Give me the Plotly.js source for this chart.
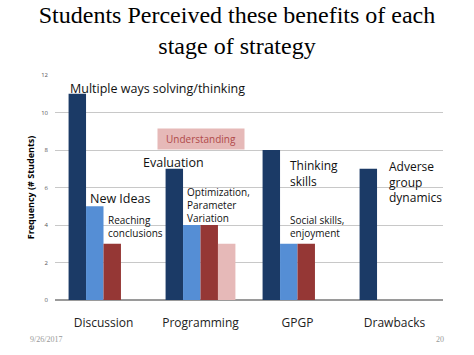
<!DOCTYPE html>
<html><head><meta charset="utf-8">
<script src="https://cdn.plot.ly/plotly-3.0.1.min.js"></script>
<style>html,body{margin:0;padding:0;background:#fff}#c{width:474px;height:355px}</style>
</head><body><div id="c"></div>
<script>
const categories = ["Discussion", "Programming", "GPGP", "Drawbacks"];
const seriesA = [11, 7, 8, 7];   // Multiple ways / Evaluation / Thinking skills / Adverse group dynamics
const seriesB = [5, 4, 3, 0];    // New Ideas / Optimization / Social skills
const seriesC = [3, 4, 3, 0];    // Reaching conclusions / Parameter variation / enjoyment
const seriesD = [0, 3, 0, 0];    // Understanding
const yTicks = [0, 2, 4, 6, 8, 10, 12];

const colors = ["#1B3A66", "#558ED5", "#953735", "#E6B9B8"];
const series = [seriesA, seriesB, seriesC, seriesD];
const traces = series.map((s, i) => ({
  type: "bar", x: categories, y: s, marker: {color: colors[i]}, showlegend: false, hoverinfo: "none"
}));

const txt = "Open Sans, Noto Sans, sans-serif";
function ann(text, x, y, size, extra) {
  return Object.assign({text: text, x: x, y: y, xref: "x", yref: "y", xanchor: "left", yanchor: "middle",
    align: "left", showarrow: false, font: {family: txt, size: size, color: "#111"}}, extra || {});
}

const layout = {
  width: 474, height: 355,
  margin: {l: 55, r: 31, t: 75, b: 55},
  paper_bgcolor: "#fff", plot_bgcolor: "#fff",
  barmode: "group", bargap: 0.28, bargroupgap: 0,
  title: {text: "Students Perceived these benefits of each<br>stage of strategy",
    font: {family: "Liberation Serif, Times New Roman, serif", size: 24, color: "#000"},
    x: 0.5, xanchor: "center", y: 0.935, yanchor: "top", yref: "container"},
  xaxis: {type: "category", range: [-0.5, 3.5], showgrid: false, showline: false, ticks: "",
    ticklabelstandoff: 14, tickfont: {family: txt, size: 12, color: "#222"}, fixedrange: true},
  yaxis: {range: [0, 12], tickvals: yTicks, ticktext: yTicks.map(String), showgrid: true, gridcolor: "#c8c8c8",
    gridwidth: 1, zeroline: true, zerolinecolor: "#9a9a9a", zerolinewidth: 1.5, showline: false, ticks: "",
    ticklabelstandoff: 6, tickfont: {family: txt, size: 6, color: "#555"},
    title: {text: "<b>Frequency (# Students)</b>", font: {family: txt, size: 9, color: "#000"}, standoff: 4},
    fixedrange: true},
  annotations: [
    ann("Multiple ways solving/thinking", -0.37, 11.3, 12.5),
    ann("Understanding", 1.01, 8.59, 10, {xanchor: "center", bgcolor: "#E6B9B8", width: 84, height: 18,
      align: "center", font: {family: txt, size: 10, color: "#B04A4A"}}),
    ann("Evaluation", 0.39, 7.36, 12.5),
    ann("New Ideas", -0.155, 5.44, 12.5),
    ann("Reaching<br>conclusions", 0.03, 3.92, 10),
    ann("Optimization,<br>Parameter<br>Variation", 0.845, 5.07, 10),
    ann("Thinking<br>skills", 1.897, 6.77, 12),
    ann("Social skills,<br>enjoyment", 1.897, 3.92, 10),
    ann("Adverse<br>group<br>dynamics", 2.918, 6.27, 12),
    {text: "9/26/2017", xref: "paper", yref: "paper", x: -0.023, y: -0.175, xanchor: "center", yanchor: "middle",
      showarrow: false, font: {family: "Liberation Serif, serif", size: 8, color: "#999"}},
    {text: "20", xref: "paper", yref: "paper", x: 0.992, y: -0.175, xanchor: "center", yanchor: "middle",
      showarrow: false, font: {family: "Liberation Serif, serif", size: 8, color: "#999"}}
  ]
};
Plotly.newPlot("c", traces, layout, {staticPlot: true, displayModeBar: false});
</script></body></html>
